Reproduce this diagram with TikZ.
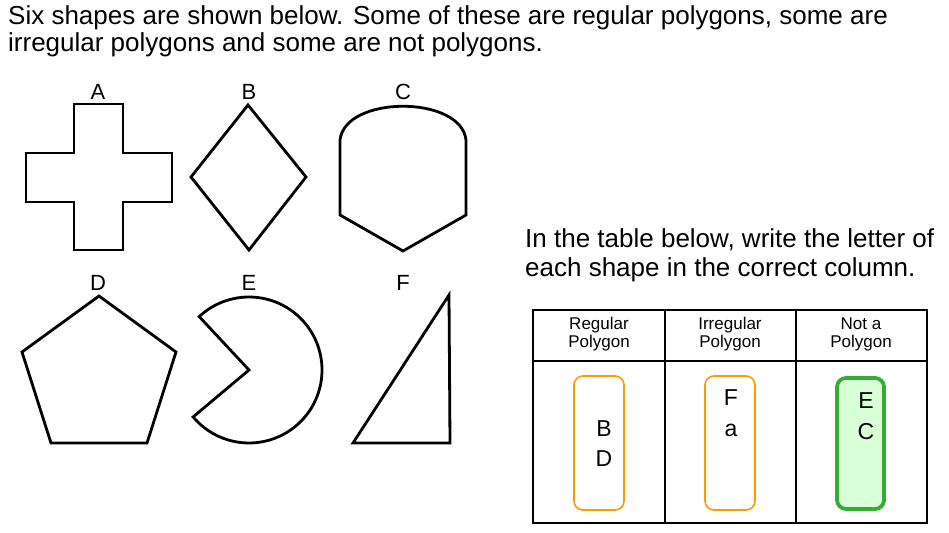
\documentclass[tikz,border=0pt]{standalone}
\usepackage{fontspec}
\setmainfont{Liberation Sans}
\begin{document}
\begin{tikzpicture}[x=1pt,y=1pt,
  shp/.style={line width=2.8pt,line join=miter},
  lbl/.style={font=\fontsize{22}{22}\selectfont,inner sep=0},
  hdr/.style={font=\fontsize{17}{18}\selectfont,align=center,inner sep=0},
  ans/.style={font=\fontsize{23}{23}\selectfont,inner sep=0},
  big/.style={font=\fontsize{26}{27}\selectfont,inner sep=0,anchor=base west},
  obox/.style={draw=orange!80!yellow,line width=1.6pt,rounded corners=9pt},
  gbox/.style={draw=green!60!black!80,fill=green!15,line width=3.8pt,rounded corners=9pt}]
\useasboundingbox (0,0) rectangle (949,-532);
\node[big] (t1) at (8,-25) {Six shapes are shown below. Some of these are regular polygons, some are};
\node[big] (t2) at (8,-52) {irregular polygons and some are not polygons.};
\node[big] (t3) at (525,-247) {In the table below, write the letter of};
\node[big] (t4) at (525,-276) {each shape in the correct column.};
% labels
\node[lbl] (la) at (98,-92) {A};
\node[lbl] (lb) at (249,-92) {B};
\node[lbl] (lc) at (403,-92) {C};
\node[lbl] (ld) at (98,-283) {D};
\node[lbl] (le) at (249,-283) {E};
\node[lbl] (lf) at (403,-283) {F};
% A cross
\draw[shp] (74,-104)--(123,-104)--(123,-153)--(172,-153)--(172,-202)--(123,-202)--(123,-250)--(74,-250)--(74,-202)--(26,-202)--(26,-153)--(74,-153)--cycle;
% B diamond
\draw[shp] (248,-105)--(306,-177)--(249,-250)--(191,-177)--cycle;
% C
\draw[shp] (340,-215)--(340,-140) .. controls (345,-95) and (461,-95) .. (466,-140)--(466,-215)--(403,-251)--cycle;
% D pentagon
\draw[shp] (99,-296)--(176,-352)--(147,-443)--(51,-443)--(22,-352)--cycle;
% E pacman
\begin{scope}[shift={(249,-370)}]
\draw[shp] (0,0)--(133:73pt) arc[start angle=133,end angle=-140,radius=73pt]--cycle;
\end{scope}
% F triangle
\draw[shp] (449,-295)--(450,-443)--(353,-443)--cycle;
% table
\draw[line width=2.4pt] (533,-310) rectangle (927,-523);
\draw[line width=2.4pt] (533,-361)--(927,-361);
\draw[line width=2.4pt] (665,-310)--(665,-523);
\draw[line width=2.4pt] (796,-310)--(796,-523);
\node[hdr] (h1) at (599,-334) {Regular\\Polygon};
\node[hdr] (h2) at (730,-334) {Irregular\\Polygon};
\node[hdr] (h3) at (861,-334) {Not a\\Polygon};
\draw[obox] (574,-376) rectangle (624,-510);
\draw[obox] (705,-376) rectangle (755,-510);
\draw[gbox] (837,-378) rectangle (884,-509);
\node[ans] (a1) at (604,-429) {B};
\node[ans] (a2) at (604,-459) {D};
\node[ans] (a3) at (731,-398) {F};
\node[ans] (a4) at (731,-430) {a};
\node[ans] (a5) at (866,-401) {E};
\node[ans] (a6) at (866,-432) {C};
\end{tikzpicture}
\end{document}
